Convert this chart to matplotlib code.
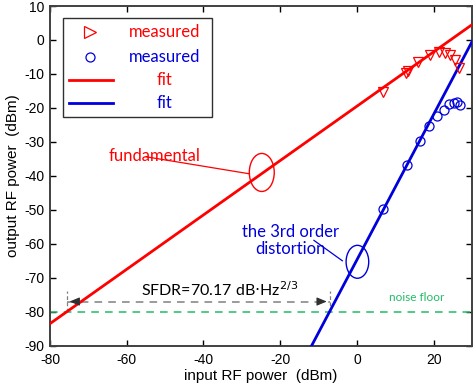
import numpy as np
from matplotlib import pyplot as plt
from matplotlib.patches import Ellipse, Rectangle
from matplotlib.lines import Line2D

# measured fundamental (red triangles)
fund_x = [6.9, 12.8, 13.4, 16.0, 19.1, 21.3, 23.0, 24.3, 25.6, 26.7]
fund_y = [-15.2, -9.6, -9.0, -6.6, -4.4, -3.5, -3.9, -4.4, -5.9, -8.3]

# measured 3rd order distortion (blue circles)
imd_x = [6.75, 13.0, 16.5, 18.8, 21.0, 22.6, 23.9, 25.2, 26.2, 26.9]
imd_y = [-49.8, -36.8, -29.7, -25.3, -22.3, -20.6, -18.9, -18.6, -18.3, -19.1]

# fitted lines (end points)
fit_x = [-80, 30]
fund_fit = [-83.5, 4.5]
imd_fit = [-236.0, -0.5]

noise_floor = -80

xticks = [-80, -60, -40, -20, 0, 20]
yticks = [10, 0, -10, -20, -30, -40, -50, -60, -70, -80, -90]

RED = '#ff0000'
BLUE = '#0000dd'
GREEN = '#22bb66'
txtfont = ['Lato', 'DejaVu Sans']

plt.rcParams['font.family'] = ['Liberation Sans', 'DejaVu Sans']
plt.rcParams['axes.unicode_minus'] = False

fig = plt.figure(figsize=(4.74, 3.90), dpi=100)
ax = fig.add_axes([0.1055, 0.1136, 0.8903, 0.871])

ax.plot(fit_x, fund_fit, color=RED, lw=2, zorder=3)
ax.plot(fit_x, imd_fit, color=BLUE, lw=2, zorder=3)
ax.plot(fund_x, fund_y, 'v', mfc='none', mec=RED, ms=7, mew=0.9, zorder=4)
ax.plot(imd_x, imd_y, 'o', mfc='none', mec=BLUE, ms=6.5, mew=0.9, zorder=4)

# noise floor
ax.axhline(noise_floor, color=GREEN, ls=(0, (5, 4)), lw=1.1, zorder=2)
ax.text(15.7, -75.9, 'noise floor', color=GREEN, fontsize=8.5,
        ha='center', va='center', family=txtfont)

# SFDR arrow between intersections with the noise floor
p1 = np.polyfit(fit_x, fund_fit, 1)
p3 = np.polyfit(fit_x, imd_fit, 1)
x_left = (noise_floor - p1[1]) / p1[0]
x_right = (noise_floor - p3[1]) / p3[0]
y_arr = -77.0
ax.plot([x_left, x_right], [y_arr, y_arr], color='#808080',
        ls=(0, (5, 4)), lw=1.1, zorder=2)
for xe in [x_left, x_right]:
    ax.plot([xe, xe], [noise_floor, -73.8], color='#808080',
            ls=(0, (3, 2)), lw=0.9, zorder=2)
ax.annotate('', xy=(x_left, y_arr), xytext=(x_left + 3, y_arr),
            arrowprops=dict(arrowstyle='-|>,head_length=0.6,head_width=0.25',
                            color='#303030', lw=0.8))
ax.annotate('', xy=(x_right, y_arr), xytext=(x_right - 3, y_arr),
            arrowprops=dict(arrowstyle='-|>,head_length=0.6,head_width=0.25',
                            color='#303030', lw=0.8))
ax.text(-35.7, -73.5, r'SFDR=70.17 dB$\cdot$Hz$^{2/3}$', fontsize=11.5,
        ha='center', va='center', family=txtfont)

# fundamental annotation
ax.add_patch(Ellipse((-24.8, -39.0), 6.5, 11.2, fill=False, ec=RED, lw=1, zorder=5))
ax.plot([-54.9, -28.0], [-34.4, -39.4], color=RED, lw=0.9)
ax.text(-52.8, -34.2, 'fundamental', color=RED, fontsize=12,
        ha='center', va='center', family=txtfont)

# 3rd order annotation
ax.add_patch(Ellipse((0.13, -65.3), 5.9, 9.7, fill=False, ec=BLUE, lw=1, zorder=5))
ax.plot([-11.2, -3.8], [-59.0, -65.0], color=BLUE, lw=0.9)
ax.text(-17.4, -59.0, 'the 3rd order\ndistortion', color=BLUE, fontsize=12,
        ha='center', va='center', family=txtfont, linespacing=1.05)

# legend, drawn by hand so labels stay centred
tr = ax.transAxes
ax.add_patch(Rectangle((0.031, 0.673), 0.353, 0.292, transform=tr, fill=True,
                       fc='white', ec='#303030', lw=1, zorder=6))
rows = [0.923, 0.850, 0.782, 0.714]
ax.add_line(Line2D([0.095], [rows[0]], marker='>', mfc='none', mec=RED, ms=8,
                   mew=0.9, transform=tr, zorder=7))
ax.add_line(Line2D([0.095], [rows[1]], marker='o', mfc='none', mec=BLUE, ms=6.5,
                   mew=0.9, transform=tr, zorder=7))
ax.add_line(Line2D([0.045, 0.149], [rows[2]] * 2, color=RED, lw=2,
                   transform=tr, zorder=7))
ax.add_line(Line2D([0.045, 0.149], [rows[3]] * 2, color=BLUE, lw=2,
                   transform=tr, zorder=7))
for lab, col, yy in zip(['measured', 'measured', 'fit', 'fit'],
                        [RED, BLUE, RED, BLUE], rows):
    ax.text(0.272, yy, lab, color=col, fontsize=12, ha='center', va='center',
            transform=tr, family=txtfont, zorder=8)

ax.set_xlim(-80, 30)
ax.set_ylim(-90, 10)
ax.set_xticks(xticks)
ax.set_yticks(yticks)
ax.tick_params(direction='in', length=4, width=1, top=True, right=True,
               labelsize=10, colors='black')
ax.tick_params(axis='x', pad=5)
ax.tick_params(axis='y', pad=4)
for sp in ax.spines.values():
    sp.set_linewidth(1.4)
    sp.set_color('#404040')
ax.set_xlabel('input RF power  (dBm)', fontsize=11, labelpad=2)
ax.set_ylabel('output RF power  (dBm)', fontsize=11, labelpad=3)

fig.savefig('out.png', dpi=100)
